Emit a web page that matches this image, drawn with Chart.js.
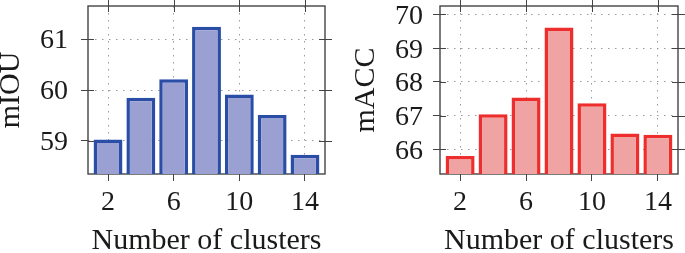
<!DOCTYPE html>
<html>
<head>
<meta charset="utf-8">
<script src="https://cdn.jsdelivr.net/npm/chart.js@4"></script>
<style>
  html, body { margin: 0; padding: 0; background: #fff; overflow: hidden; }
  canvas { position: absolute; top: 0; }
  #left { left: 0; }
  #right { left: 345px; }
</style>
</head>
<body>
<canvas id="left" width="345" height="253"></canvas>
<canvas id="right" width="340" height="253"></canvas>
<script>
const clusters = [2, 4, 6, 8, 10, 12, 14];
const mIOU = [59.03, 59.85, 60.21, 61.24, 59.91, 59.51, 58.73];
const mACC = [65.80, 67.04, 67.54, 69.61, 67.37, 66.47, 66.43];
const xTicks = [2, 6, 10, 14];
const iouTicks = [59, 60, 61];
const accTicks = [66, 67, 68, 69, 70];

const serif = 'Liberation Serif';
const axisColor = '#444';
const textColor = '#1a1a1a';

// box around the plot, with ticks crossing it on every side
const frameTicks = {
  id: 'frameTicks',
  beforeDatasetsDraw(chart) {
    const {ctx, chartArea: a, scales} = chart;
    const al = v => Math.round(v) + 0.5;
    ctx.save();
    ctx.strokeStyle = axisColor;
    ctx.lineWidth = 1;
    ctx.beginPath();
    scales.x.ticks.forEach(t => {
      const px = al(scales.x.getPixelForValue(t.value));
      ctx.moveTo(px, a.top - 6); ctx.lineTo(px, a.top + 6);
      ctx.moveTo(px, a.bottom - 6); ctx.lineTo(px, a.bottom);
    });
    scales.y.ticks.forEach(t => {
      const py = al(scales.y.getPixelForValue(t.value));
      ctx.moveTo(a.left, py); ctx.lineTo(a.left + 6, py);
      ctx.moveTo(a.right - 6, py); ctx.lineTo(a.right + 7, py);
    });
    ctx.stroke();
    ctx.lineWidth = 1.4;
    ctx.strokeRect(a.left, a.top, a.right - a.left, a.bottom - a.top);
    ctx.restore();
  }
};

function makeChart(id, values, yMin, yMax, yTicks, yTitle, fill, stroke, yWidth, padRight, labelPad, titlePad) {
  const ctx = document.getElementById(id).getContext('2d');
  return new Chart(ctx, {
    type: 'bar',
    data: {
      datasets: [{
        data: clusters.map((c, i) => ({x: c, y: values[i]})),
        backgroundColor: fill,
        borderColor: stroke,
        borderWidth: 3.5,
        borderSkipped: false,
        barPercentage: 0.88,
        categoryPercentage: 1
      }]
    },
    options: {
      responsive: false,
      animation: false,
      layout: { padding: { left: 0, top: 6, right: padRight, bottom: 0 } },
      plugins: { legend: { display: false }, tooltip: { enabled: false } },
      scales: {
        x: {
          type: 'linear',
          offset: false,
          min: 0.78,
          max: 15.22,
          afterBuildTicks: s => { s.ticks = xTicks.map(v => ({value: v})); },
          afterFit: s => { s.height = 79; s.paddingLeft = 0; s.paddingRight = 0; },
          grid: { offset: false, color: '#9a9a9a', lineWidth: 1, tickLength: 7, tickColor: axisColor, tickBorderDash: [], tickWidth: 1 },
          border: { display: false, dash: [1.5, 5.5] },
          ticks: { color: textColor, font: { family: serif, size: 28 }, padding: 4.5, maxRotation: 0, autoSkip: false },
          title: { display: true, text: 'Number of clusters', color: textColor, font: { family: serif, size: 30, lineHeight: 1 }, padding: { top: 0, bottom: -3.6 } }
        },
        y: {
          min: yMin,
          max: yMax,
          afterBuildTicks: s => { s.ticks = yTicks.map(v => ({value: v})); },
          afterFit: s => { s.width = yWidth; s.paddingTop = 0; s.paddingBottom = 0; },
          grid: { color: '#9a9a9a', lineWidth: 1, tickLength: 7, tickColor: axisColor, tickBorderDash: [], tickWidth: 1 },
          border: { display: false, dash: [1.5, 5.5] },
          ticks: { color: textColor, font: { family: serif, size: 28 }, padding: labelPad, labelOffset: 2 },
          title: { display: true, text: yTitle, color: textColor, font: { family: serif, size: 30, lineHeight: 1 }, padding: { top: titlePad, bottom: 0 } }
        }
      }
    },
    plugins: [frameTicks]
  });
}

makeChart('left', mIOU, 58.35, 61.65, iouTicks, 'mIOU', '#9aa0d2', '#2a4ea6', 88, 20, 13, -4.1);
makeChart('right', mACC, 65.27, 70.25, accTicks, 'mACC', '#f0a3a3', '#ee2d2d', 95, 7, 10, 6.6);
</script>
</body>
</html>
